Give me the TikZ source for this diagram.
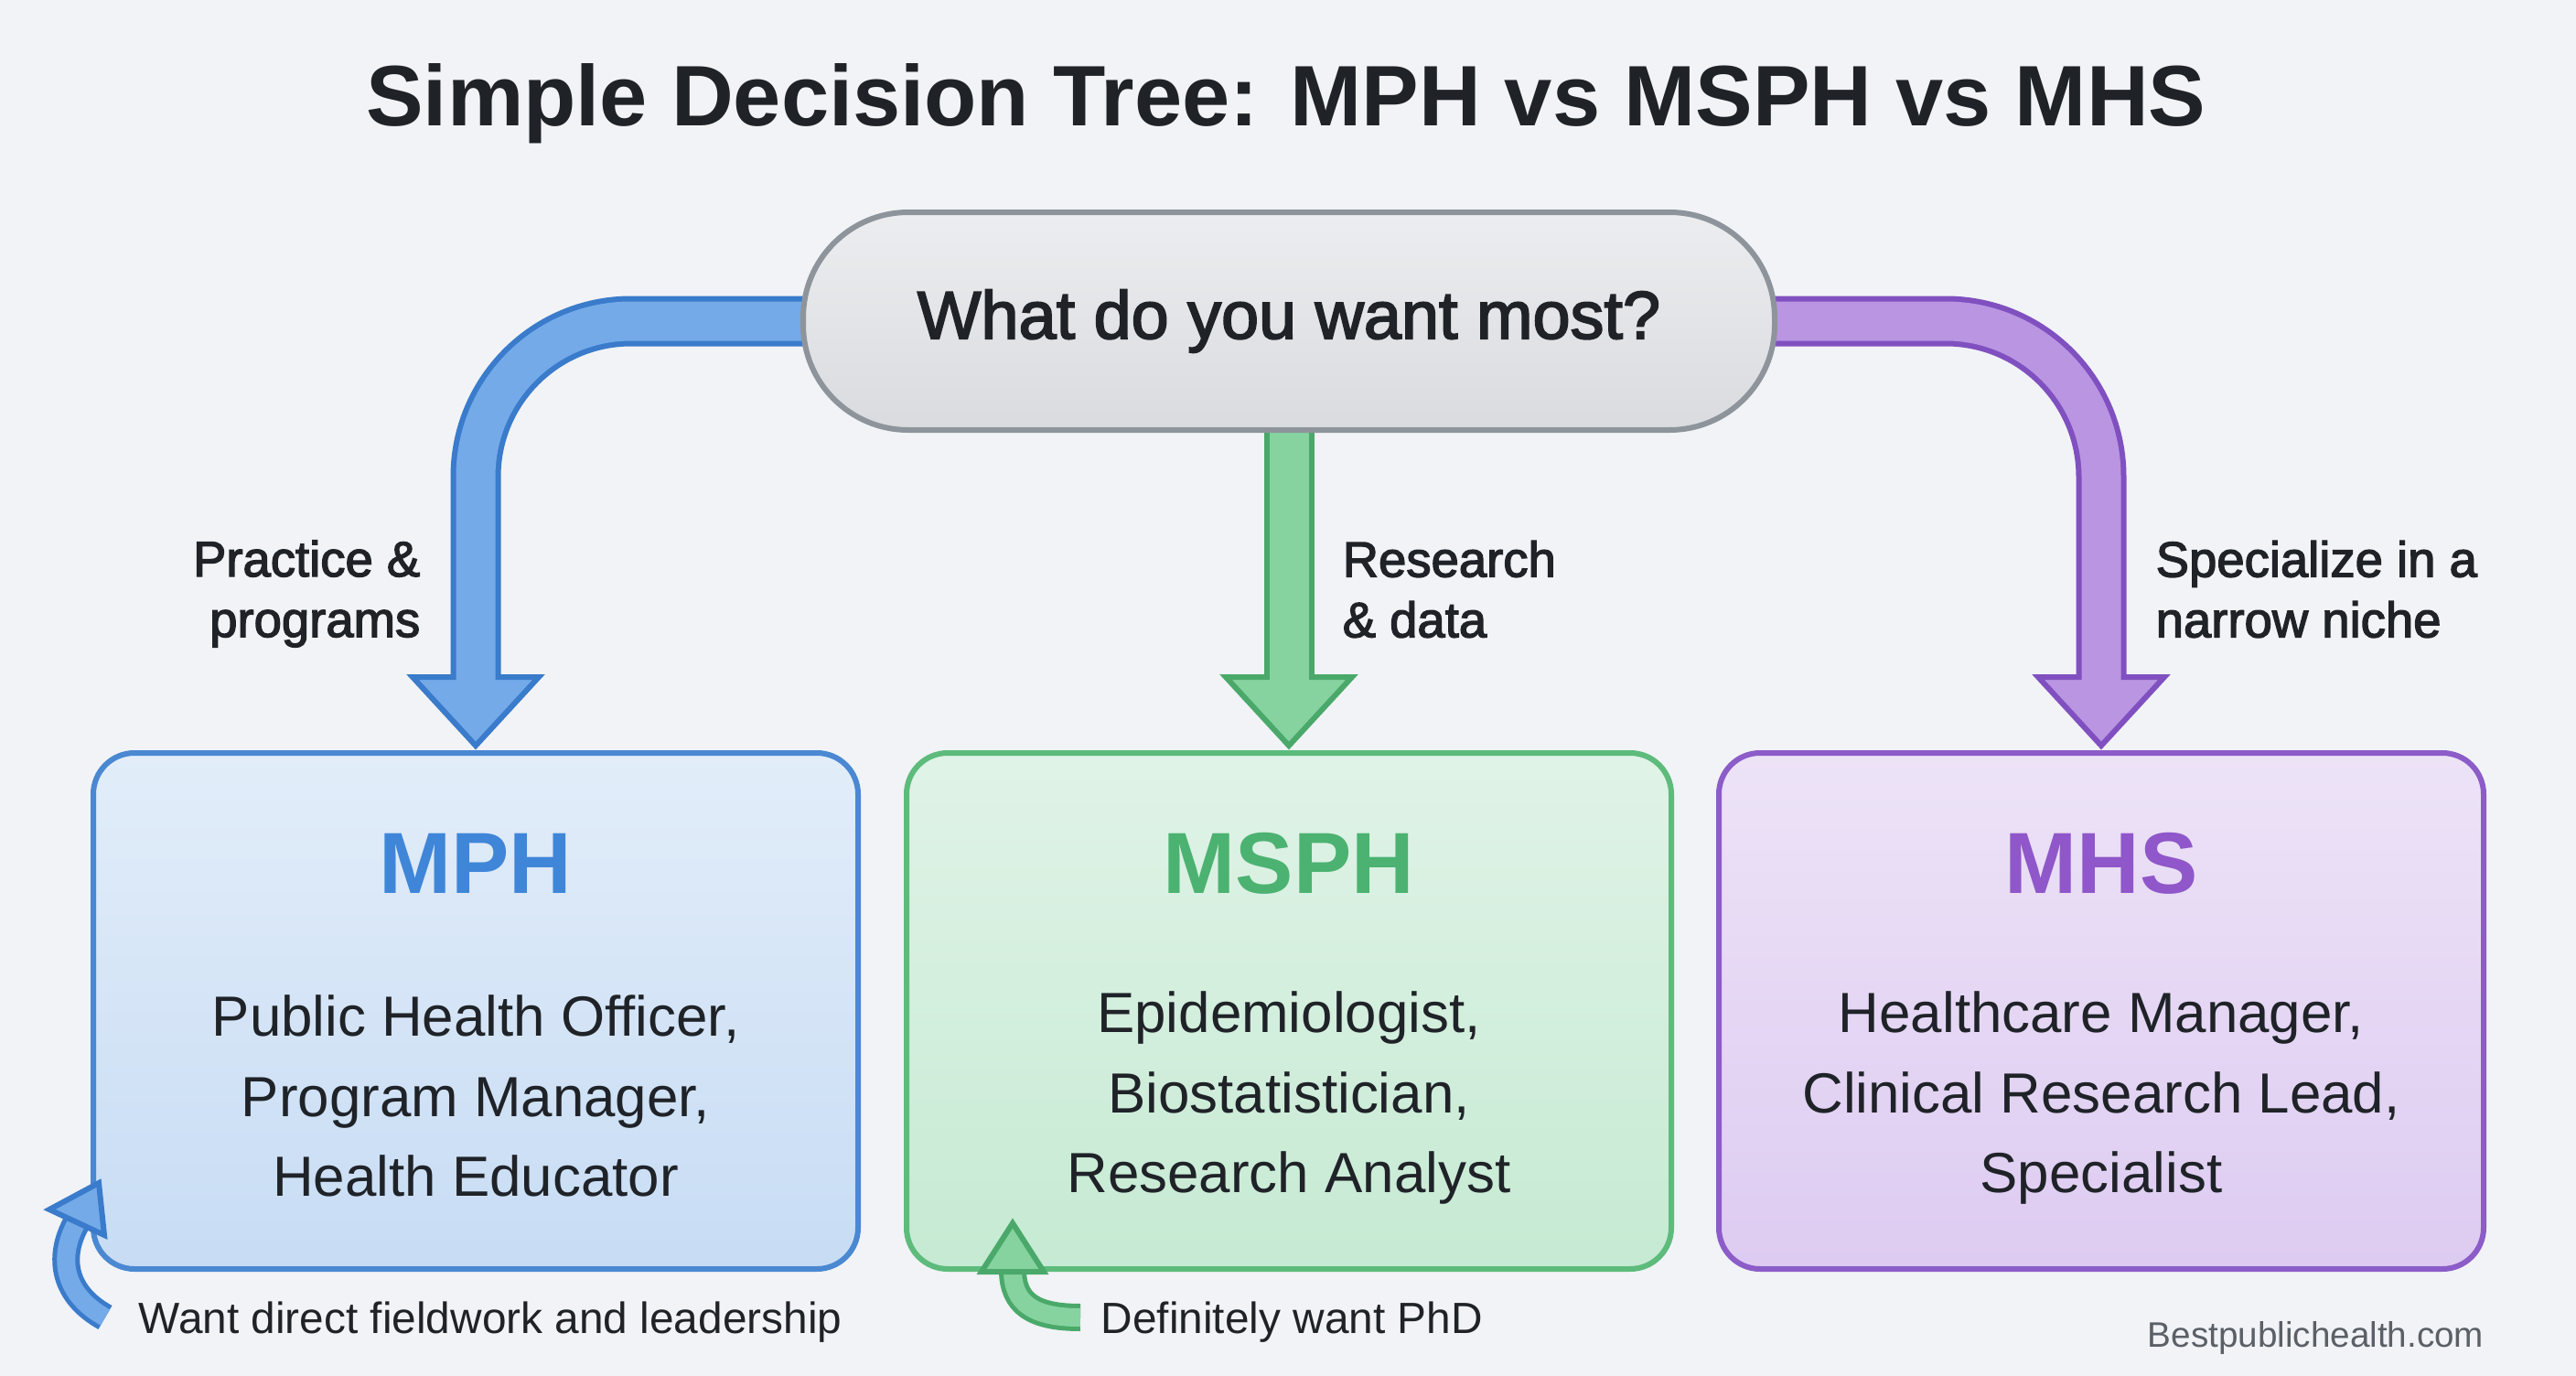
\documentclass[tikz,border=0pt]{standalone}
\usepackage{fontspec}
\setmainfont{Liberation Sans}
\newfontfamily\medfont[FakeBold=2.5]{Liberation Sans}
\usetikzlibrary{positioning, calc, backgrounds}

\definecolor{paper}{HTML}{F1F3F6}
\definecolor{ink}{HTML}{1F2328}
\definecolor{stamp}{HTML}{5B6067}
\definecolor{pillline}{HTML}{8E949B}
\definecolor{pilltop}{HTML}{ECEDEF}
\definecolor{pillbot}{HTML}{D9DBDF}
\definecolor{mphline}{HTML}{4A88D2}
\definecolor{mphtop}{HTML}{E2EDF9}
\definecolor{mphbot}{HTML}{C7DCF4}
\definecolor{mphhead}{HTML}{3F86D8}
\definecolor{mphedge}{HTML}{3A7BCB}
\definecolor{mphfill}{HTML}{74AAE8}
\definecolor{msphline}{HTML}{5DBB7C}
\definecolor{msphtop}{HTML}{E0F3E7}
\definecolor{msphbot}{HTML}{C6EAD3}
\definecolor{msphhead}{HTML}{4CB271}
\definecolor{msphedge}{HTML}{4AA96A}
\definecolor{msphfill}{HTML}{86D3A0}
\definecolor{mhsline}{HTML}{8C5CC8}
\definecolor{mhstop}{HTML}{EDE3F7}
\definecolor{mhsbot}{HTML}{DDCBF1}
\definecolor{mhshead}{HTML}{8F57C9}
\definecolor{mhsedge}{HTML}{8050C0}
\definecolor{mhsfill}{HTML}{B995E2}

\begin{document}
\begin{tikzpicture}[
  card/.style={draw=#1line, top color=#1top, bottom color=#1bot, line width=0.06cm,
    rounded corners=0.45cm, minimum width=8.36cm, minimum height=5.64cm},
  degree/.style={text=#1head, font=\bfseries\fontsize{27}{32}\selectfont, anchor=base},
  jobs/.style={text=ink, font=\fontsize{17.6}{25}\selectfont, align=center},
  choice/.style={text=ink, font=\medfont\fontsize{15.5}{18.8}\selectfont, inner sep=0pt},
  note/.style={text=ink, font=\fontsize{13.6}{16}\selectfont, anchor=west, inner sep=0pt},
  band/.style={#1edge, line width=0.55cm},
  bandfill/.style={#1fill, line width=0.43cm},
  headtri/.style={fill=#1fill, draw=#1edge, line width=0.06cm, line join=miter},
  curlarrow/.style={draw=#1edge, line width=0.05cm, double=#1fill, double distance=0.2cm}
]
  \useasboundingbox (0,0) rectangle (28.16,-15.04);

  \node[font=\bfseries\fontsize{26.7}{32}\selectfont, text=ink, anchor=base] (title) at (14.06,-1.37)
    {Simple Decision Tree: MPH vs MSPH vs MHS};
  \node[draw=pillline, top color=pilltop, bottom color=pillbot, line width=0.06cm, rounded corners=1.15cm,
    minimum width=10.62cm, minimum height=2.38cm, text=ink, font=\medfont\fontsize{21}{25}\selectfont]
    (pill) at (14.09,-3.51) {What do you want most?};

  % the three degrees
  \node[card=mph] (mph) at (5.20,-11.05) {};
  \node[card=msph] (msph) at (14.09,-11.05) {};
  \node[card=mhs] (mhs) at (22.97,-11.05) {};
  \node[degree=mph] (mphname) at (5.20,-9.76) {MPH};
  \node[degree=msph] (msphname) at (14.09,-9.76) {MSPH};
  \node[degree=mhs] (mhsname) at (22.97,-9.76) {MHS};
  \node[jobs] (mphjobs) at (5.20,-11.98) {Public Health Officer,\\Program Manager,\\Health Educator};
  \node[jobs] (msphjobs) at (14.09,-12.00) {Epidemiologist,\\Biostatistician,\\Research Analyst};
  \node[jobs] (mhsjobs) at (22.97,-12.00) {Healthcare Manager,\\Clinical Research Lead,\\Specialist};

  % branch labels
  \node[choice, anchor=east, align=right] (practice) at (4.60,-6.49) {Practice \&\\programs};
  \node[choice, anchor=west, align=left] (research) at (14.67,-6.44) {Research\\\& data};
  \node[choice, anchor=west, align=left] (niche) at (23.56,-6.44) {Specialize in a\\narrow niche};

  % notes under the cards
  \node[note] (wantnote) at (1.51,-14.45) {Want direct fieldwork and leadership};
  \node[note] (phdnote) at (12.03,-14.45) {Definitely want PhD};
  \node[anchor=base west, inner sep=0pt, text=stamp, font=\fontsize{11}{13}\selectfont]
    (site) at (23.47,-14.72) {Bestpublichealth.com};

  \begin{scope}[on background layer]
    \fill[paper] (0,0) rectangle (28.16,-15.04);
    % blue branch
    \draw[band=mph, rounded corners=1.7cm] ($(pill.west)+(0.2,0)$) -| ($(mph.north)+(0,0.8)$);
    \draw[headtri=mph] ($(mph.north)+(-0.69,0.8)$) -- ($(mph.north)+(0.69,0.8)$) -- ($(mph.north)+(0,0.05)$) -- cycle;
    \draw[bandfill=mph, rounded corners=1.7cm] ($(pill.west)+(0.2,0)$) -| ($(mph.north)+(0,0.74)$);
    % green branch
    \draw[band=msph] ($(pill.south)+(0,0.2)$) -- ($(msph.north)+(0,0.8)$);
    \draw[headtri=msph] ($(msph.north)+(-0.69,0.8)$) -- ($(msph.north)+(0.69,0.8)$) -- ($(msph.north)+(0,0.05)$) -- cycle;
    \draw[bandfill=msph] ($(pill.south)+(0,0.2)$) -- ($(msph.north)+(0,0.74)$);
    % purple branch
    \draw[band=mhs, rounded corners=1.7cm] ($(pill.east)+(-0.2,0)$) -| ($(mhs.north)+(0,0.8)$);
    \draw[headtri=mhs] ($(mhs.north)+(-0.69,0.8)$) -- ($(mhs.north)+(0.69,0.8)$) -- ($(mhs.north)+(0,0.05)$) -- cycle;
    \draw[bandfill=mhs, rounded corners=1.7cm] ($(pill.east)+(-0.2,0)$) -| ($(mhs.north)+(0,0.74)$);
  \end{scope}

  % small curved pointers
  \coordinate (wanttail) at ($(wantnote.west)+(-0.36,0.05)$);
  \coordinate (wanthead) at (0.84,-13.36);
  \draw[curlarrow=mph] (wanttail) .. controls (0.70,-14.15) and (0.62,-13.75) .. (wanthead);
  \draw[headtri=mph] (1.08,-12.93) -- (0.54,-13.22) -- (1.14,-13.50) -- cycle;
  \coordinate (phdtail) at ($(phdnote.west)+(-0.22,0.05)$);
  \coordinate (phdhead) at (11.07,-13.88);
  \draw[curlarrow=msph] (phdtail) .. controls (11.30,-14.40) and (11.07,-14.25) .. (phdhead);
  \draw[headtri=msph] (11.07,-13.37) -- (10.73,-13.90) -- (11.41,-13.90) -- cycle;
\end{tikzpicture}
\end{document}
